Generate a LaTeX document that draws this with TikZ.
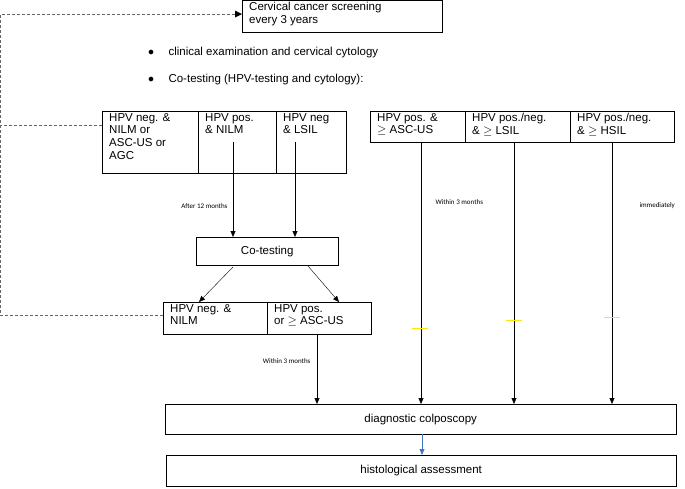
\documentclass[tikz,border=0pt]{standalone}
\usepackage{fontspec}
\setmainfont{Liberation Sans}
\newfontfamily\lab{Carlito}
\usetikzlibrary{arrows.meta,calc}
\begin{document}
\begin{tikzpicture}[x=1pt,y=-1pt,
  cell/.style={draw,anchor=north west,inner sep=0pt},
  ctext/.style={anchor=north west,align=left,inner sep=0pt,font=\fontsize{11.5}{12.8}\selectfont},
  lbl/.style={font=\lab\fontsize{7}{8}\selectfont},
  arr/.style={-{Triangle[length=6pt,width=5pt]}},
  fb/.style={densely dashed,gray!80!black,line width=0.5pt}]
\useasboundingbox (0,0) rectangle (685,488);
\newcommand{\cellbox}[6]{% name,x1,y1,x2,y2,text
  \node[cell,minimum width=#4-#2,minimum height=#5-#3] (#1) at (#2,#3) {};
  \node[ctext] (#1t) at (#2+7,#3+2) {#6};}
\cellbox{top}{242}{0}{442}{32}{Cervical cancer screening\\every 3 years}
\node[font=\fontsize{11.5}{12}\selectfont] (b1) at (151,53) {$\bullet$};
\node[anchor=west,font=\fontsize{11.5}{12}\selectfont] (t1) at (165,53) {clinical examination and cervical cytology};
\node[font=\fontsize{11.5}{12}\selectfont] (b2) at (151,80) {$\bullet$};
\node[anchor=west,font=\fontsize{11.5}{12}\selectfont] (t2) at (165,80) {Co-testing (HPV-testing and cytology):};
\cellbox{a1}{102}{111}{198}{173}{HPV neg. \&\\NILM or\\ASC-US or\\AGC}
\cellbox{a2}{198}{111}{276}{173}{HPV pos.\\\& NILM}
\cellbox{a3}{276}{111}{346}{173}{HPV neg\\\& LSIL}
\cellbox{r1}{370}{111}{465}{142}{HPV pos. \&\\$\geq$ ASC-US}
\cellbox{r2}{465}{111}{570}{142}{HPV pos./neg.\\\& $\geq$ LSIL}
\cellbox{r3}{570}{111}{674}{142}{HPV pos./neg.\\\& $\geq$ HSIL}
\node[draw,anchor=north west,minimum width=142,minimum height=28,inner sep=0pt,font=\fontsize{11.5}{12}\selectfont] (co) at (196,237) {Co-testing};
\cellbox{c1}{163}{302}{267}{334}{HPV neg. \&\\NILM}
\cellbox{c2}{267}{302}{371}{334}{HPV pos.\\or $\geq$ ASC-US}
\node[draw,anchor=north west,minimum width=511,minimum height=30,inner sep=0pt,font=\fontsize{11.5}{12}\selectfont] (dc) at (165,404) {diagnostic colposcopy};
\node[draw,anchor=north west,minimum width=510,minimum height=31,inner sep=0pt,font=\fontsize{11.5}{12}\selectfont] (ha) at (166,455) {histological assessment};
% dashed feedback loop
\coordinate (l1) at (0.5,125);
\coordinate (l0) at (0.5,14);
\coordinate (l2) at (0.5,315);
\draw[fb] (a1.west |- l1) -- (l1);
\draw[fb] (c1.west |- l2) -- (l2) -- (l0) -- (top.west |- l0);
\fill (top.west |- l0) -- ++(-7,-3.5) -- ++(0,7) -- cycle;
% arrows
\draw[arr] (233,142) -- (233,237);
\draw[arr] (295,142) -- (295,237);
\node[lbl,anchor=east] (L1) at (231,206) {After 12 months};
\draw[arr] (233,267) -- (199,302);
\draw[arr] (308,266) -- (339,302);
\draw[arr] (317,334) -- (317,404);
\node[lbl,anchor=east] (L2) at (314,361) {Within 3 months};
\draw[arr] (421,142) -- (421,404);
\draw[arr] (514,142) -- (514,404);
\draw[arr] (612,142) -- (612,404);
\node[lbl,anchor=west] (L3) at (432,202) {Within 3 months};
\node[lbl,anchor=west] (L4) at (636,206) {immediately};
\draw[arr,color={rgb,255:red,70;green,114;blue,196}] (422,434) -- (422,455);
\draw[yellow!90!orange,line width=0.6pt] (412,328) -- (428,328) (506,320) -- (522,320) (604,317) -- (620,317);
\end{tikzpicture}
\end{document}
